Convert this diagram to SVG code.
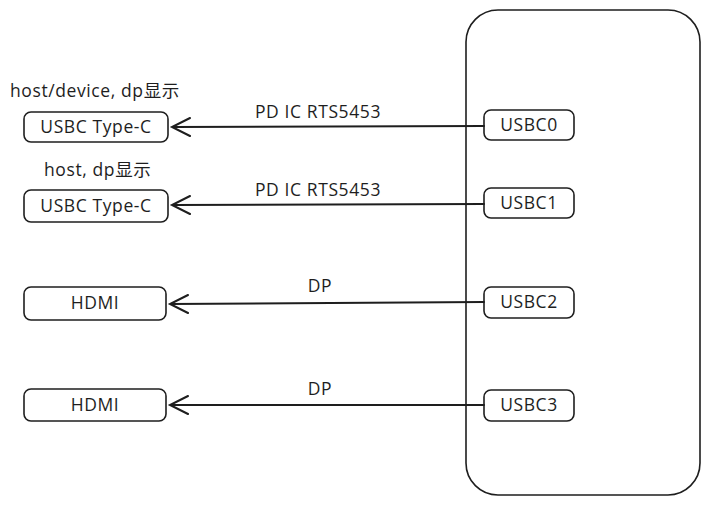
<svg xmlns="http://www.w3.org/2000/svg" width="711" height="507" viewBox="0 0 711 507">
<style>
.b{fill:none;stroke:#1e1e1e;stroke-width:1.6}
.t{font-family:"Open Sans","Noto Sans CJK SC",sans-serif;font-size:17.5px;letter-spacing:0.6px;fill:#1e1e1e}
.c{text-anchor:middle}
.a{fill:none;stroke:#1e1e1e;stroke-width:2;stroke-linecap:round}
</style>
<rect width="711" height="507" fill="#fff"/>
<g id="main"><rect class="b" x="466" y="10" width="234" height="485" rx="32"/></g>
<g id="usbc0"><rect class="b" x="484" y="110" width="90" height="30" rx="7"/><text class="t c" x="529" y="131">USBC0</text></g>
<g id="usbc1"><rect class="b" x="484" y="188" width="90" height="30" rx="7"/><text class="t c" x="529" y="209">USBC1</text></g>
<g id="usbc2"><rect class="b" x="484" y="287" width="90" height="31" rx="7"/><text class="t c" x="529" y="308">USBC2</text></g>
<g id="usbc3"><rect class="b" x="484" y="390" width="90" height="31" rx="7"/><text class="t c" x="529" y="411">USBC3</text></g>
<g id="typec0"><rect class="b" x="24" y="112" width="144" height="30" rx="7"/><text class="t c" x="96" y="133">USBC Type-C</text></g>
<g id="typec1"><rect class="b" x="24" y="190" width="144" height="32" rx="7"/><text class="t c" x="96" y="212">USBC Type-C</text></g>
<g id="hdmi0"><rect class="b" x="24" y="287" width="142" height="33" rx="7"/><text class="t c" x="95" y="309">HDMI</text></g>
<g id="hdmi1"><rect class="b" x="24" y="389" width="142" height="32" rx="7"/><text class="t c" x="95" y="411">HDMI</text></g>
<g id="notes">
<text class="t" x="10" y="97">host/device, dp显示</text>
<text class="t" x="44" y="176">host, dp显示</text>
</g>
<g id="connectors">
<path class="a" d="M484 126 L172 127 M190 118 L172 127 L190 136"/>
<path class="a" d="M484 204 L172 205 M190 196 L172 205 L190 214"/>
<path class="a" d="M484 302 L170 304 M188 295 L170 304 L188 313"/>
<path class="a" d="M484 405 L170 405 M188 396 L170 405 L188 414"/>
<text class="t c" x="318" y="118">PD IC RTS5453</text>
<text class="t c" x="318" y="196">PD IC RTS5453</text>
<text class="t c" x="320" y="292">DP</text>
<text class="t c" x="320" y="395">DP</text>
</g>
</svg>
